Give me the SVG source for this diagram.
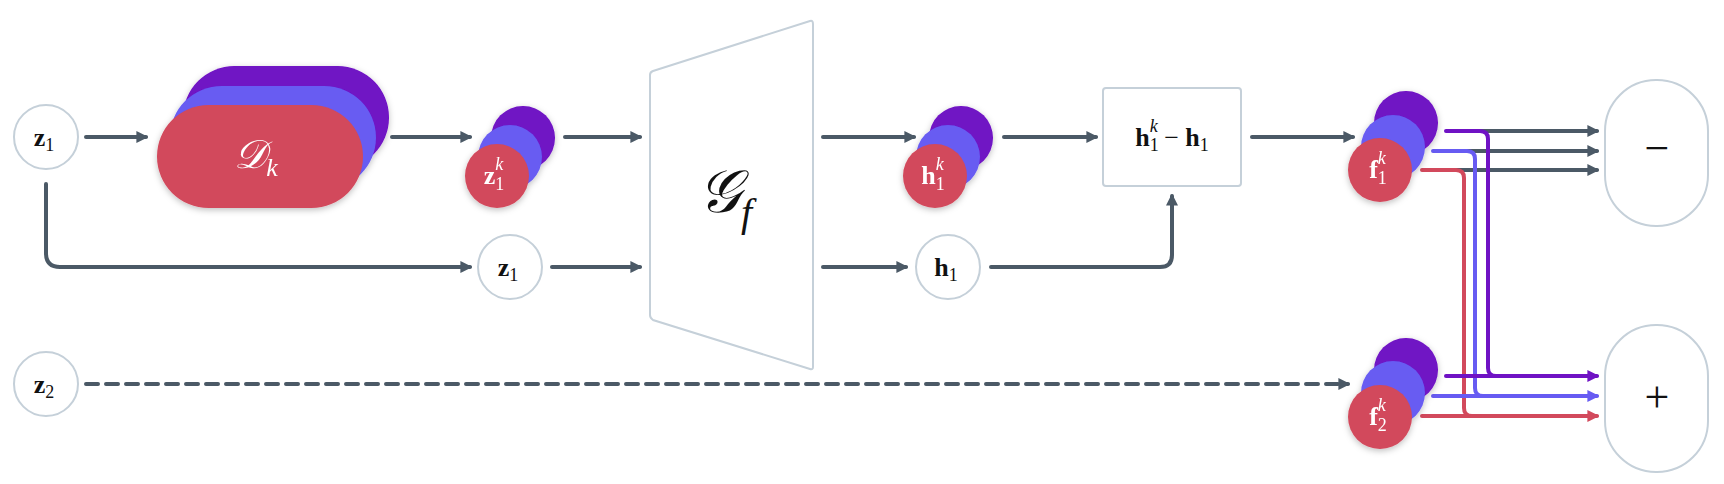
<svg xmlns="http://www.w3.org/2000/svg" width="1724" height="484" viewBox="0 0 1724 484">
<style>
.c{stroke:#4b5966;stroke-width:4;fill:none;stroke-linecap:round;stroke-linejoin:round}
.nd{fill:#fff;stroke:#c5d0d9;stroke-width:2}
.t{font-family:"Liberation Serif",serif;font-weight:bold;font-size:26px;fill:#111;text-anchor:middle}
.w{fill:#fff}
.s{font-weight:normal;font-size:18px}
.p{fill:#6f12c4}.b{fill:#675bf2}.r{fill:#d2495c}
</style>
<defs>
<marker id="a" viewBox="0 0 10 10" refX="8" refY="5" markerWidth="3" markerHeight="3" orient="auto"><path d="M0,0L10,5L0,10z" fill="#4b5966"/></marker>
<marker id="ap" viewBox="0 0 10 10" refX="8" refY="5" markerWidth="3" markerHeight="3" orient="auto"><path d="M0,0L10,5L0,10z" fill="#6f12c4"/></marker>
<marker id="ab" viewBox="0 0 10 10" refX="8" refY="5" markerWidth="3" markerHeight="3" orient="auto"><path d="M0,0L10,5L0,10z" fill="#675bf2"/></marker>
<marker id="ar" viewBox="0 0 10 10" refX="8" refY="5" markerWidth="3" markerHeight="3" orient="auto"><path d="M0,0L10,5L0,10z" fill="#d2495c"/></marker>
<filter id="sh" x="-20%" y="-20%" width="140%" height="140%"><feDropShadow dx="0" dy="2" stdDeviation="3" flood-opacity="0.25"/></filter>
</defs>
<g id="edges">
<line class="c" x1="86" y1="137" x2="146" y2="137" marker-end="url(#a)"/>
<line class="c" x1="392" y1="137" x2="470" y2="137" marker-end="url(#a)"/>
<line class="c" x1="565" y1="137" x2="640" y2="137" marker-end="url(#a)"/>
<path class="c" d="M46,184V253Q46,267 60,267H470" marker-end="url(#a)"/>
<line class="c" x1="552" y1="267" x2="640" y2="267" marker-end="url(#a)"/>
<line class="c" x1="823" y1="137" x2="914" y2="137" marker-end="url(#a)"/>
<line class="c" x1="823" y1="267" x2="906" y2="267" marker-end="url(#a)"/>
<line class="c" x1="1004" y1="137" x2="1096" y2="137" marker-end="url(#a)"/>
<path class="c" d="M991,267H1160Q1172,267 1172,255V196" marker-end="url(#a)"/>
<line class="c" x1="1252" y1="137" x2="1353" y2="137" marker-end="url(#a)"/>
<line class="c" x1="86" y1="384" x2="1348" y2="384" stroke-dasharray="12,8" marker-end="url(#a)"/>
<line class="c" x1="1470" y1="131" x2="1597" y2="131" marker-end="url(#a)"/>
<line class="c" x1="1455" y1="151" x2="1597" y2="151" marker-end="url(#a)"/>
<line class="c" x1="1440" y1="170" x2="1597" y2="170" marker-end="url(#a)"/>
<path class="c" style="stroke:#d2495c" d="M1422,170H1456Q1464,170 1464,178V408Q1464,416 1472,416H1597" marker-end="url(#ar)"/>
<path class="c" style="stroke:#675bf2" d="M1433,151H1467Q1475,151 1475,159V388Q1475,396 1483,396H1597" marker-end="url(#ab)"/>
<path class="c" style="stroke:#6f12c4" d="M1446,131H1480Q1488,131 1488,139V368Q1488,376 1496,376H1597" marker-end="url(#ap)"/>
<line class="c" style="stroke:#6f12c4" x1="1446" y1="376" x2="1500" y2="376"/>
<line class="c" style="stroke:#675bf2" x1="1433" y1="396" x2="1490" y2="396"/>
<line class="c" style="stroke:#d2495c" x1="1422" y1="416" x2="1480" y2="416"/>
</g>
<g id="z1"><circle class="nd" cx="46" cy="137" r="32"/><text class="t" x="44" y="146">z<tspan class="s" dy="5">1</tspan></text></g>
<g id="Dk" filter="url(#sh)">
<rect class="p" x="183" y="66" width="206" height="103" rx="51.5"/>
<rect class="b" x="170" y="86" width="206" height="103" rx="51.5"/>
<rect class="r" x="157" y="105" width="206" height="103" rx="51.5"/>
<text x="256" y="168" font-family="Liberation Serif,serif" font-style="italic" font-size="40" fill="#fff" text-anchor="middle">𝒟<tspan font-size="26" dy="8">k</tspan></text>
</g>
<g id="z1k" filter="url(#sh)">
<circle class="p" cx="523" cy="138" r="32"/><circle class="b" cx="510" cy="157" r="32"/><circle class="r" cx="497" cy="176" r="32"/>
<text class="t w" x="494" y="184" font-size="24">z<tspan class="s" dy="6">1</tspan><tspan class="s" font-style="italic" dx="-9" dy="-20">k</tspan></text>
</g>
<g id="Gf"><path d="M653,71L810,21Q813,20 813,24V367Q813,370 810,369L653,320Q650,318 650,315V75Q650,72 653,71Z" fill="#fff" stroke="#c5d0d9" stroke-width="2"/>
<text x="725" y="212" font-family="Liberation Serif,serif" font-style="italic" font-size="60" fill="#111" text-anchor="middle">𝒢<tspan font-size="40" dy="14">f</tspan></text></g>
<g id="z1b"><circle class="nd" cx="510" cy="267" r="32"/><text class="t" x="508" y="276">z<tspan class="s" dy="5">1</tspan></text></g>
<g id="h1k" filter="url(#sh)">
<circle class="p" cx="961" cy="138" r="32"/><circle class="b" cx="948" cy="157" r="32"/><circle class="r" cx="935" cy="176" r="32"/>
<text class="t w" x="933" y="184" font-size="24">h<tspan class="s" dy="6">1</tspan><tspan class="s" font-style="italic" dx="-9" dy="-20">k</tspan></text>
</g>
<g id="h1"><circle class="nd" cx="948" cy="267" r="32"/><text class="t" x="946" y="276">h<tspan class="s" dy="5">1</tspan></text></g>
<g id="diff"><rect x="1103" y="88" width="138" height="98" rx="3" fill="#fff" stroke="#c5d0d9" stroke-width="2"/>
<text class="t" x="1172" y="146" font-size="24">h<tspan class="s" dy="5">1</tspan><tspan class="s" font-style="italic" dx="-9" dy="-19">k</tspan><tspan font-weight="normal" dy="14"> − </tspan>h<tspan class="s" dy="5">1</tspan></text></g>
<g id="f1k" filter="url(#sh)">
<circle class="p" cx="1406" cy="123" r="32"/><circle class="b" cx="1393" cy="147" r="32"/><circle class="r" cx="1380" cy="170" r="32"/>
<text class="t w" x="1378" y="178" font-size="24">f<tspan class="s" dy="6">1</tspan><tspan class="s" font-style="italic" dx="-9" dy="-20">k</tspan></text>
</g>
<g id="z2"><circle class="nd" cx="46" cy="384" r="32"/><text class="t" x="44" y="393">z<tspan class="s" dy="5">2</tspan></text></g>
<g id="f2k" filter="url(#sh)">
<circle class="p" cx="1406" cy="370" r="32"/><circle class="b" cx="1393" cy="393" r="32"/><circle class="r" cx="1380" cy="417" r="32"/>
<text class="t w" x="1378" y="425" font-size="24">f<tspan class="s" dy="6">2</tspan><tspan class="s" font-style="italic" dx="-9" dy="-20">k</tspan></text>
</g>
<g id="minus"><rect class="nd" x="1605" y="80" width="103" height="146" rx="51"/><text x="1657" y="163" font-family="Liberation Serif,serif" font-size="44" fill="#111" text-anchor="middle">−</text></g>
<g id="plus"><rect class="nd" x="1605" y="325" width="103" height="147" rx="51"/><text x="1657" y="412" font-family="Liberation Serif,serif" font-size="44" fill="#111" text-anchor="middle">+</text></g>
</svg>
